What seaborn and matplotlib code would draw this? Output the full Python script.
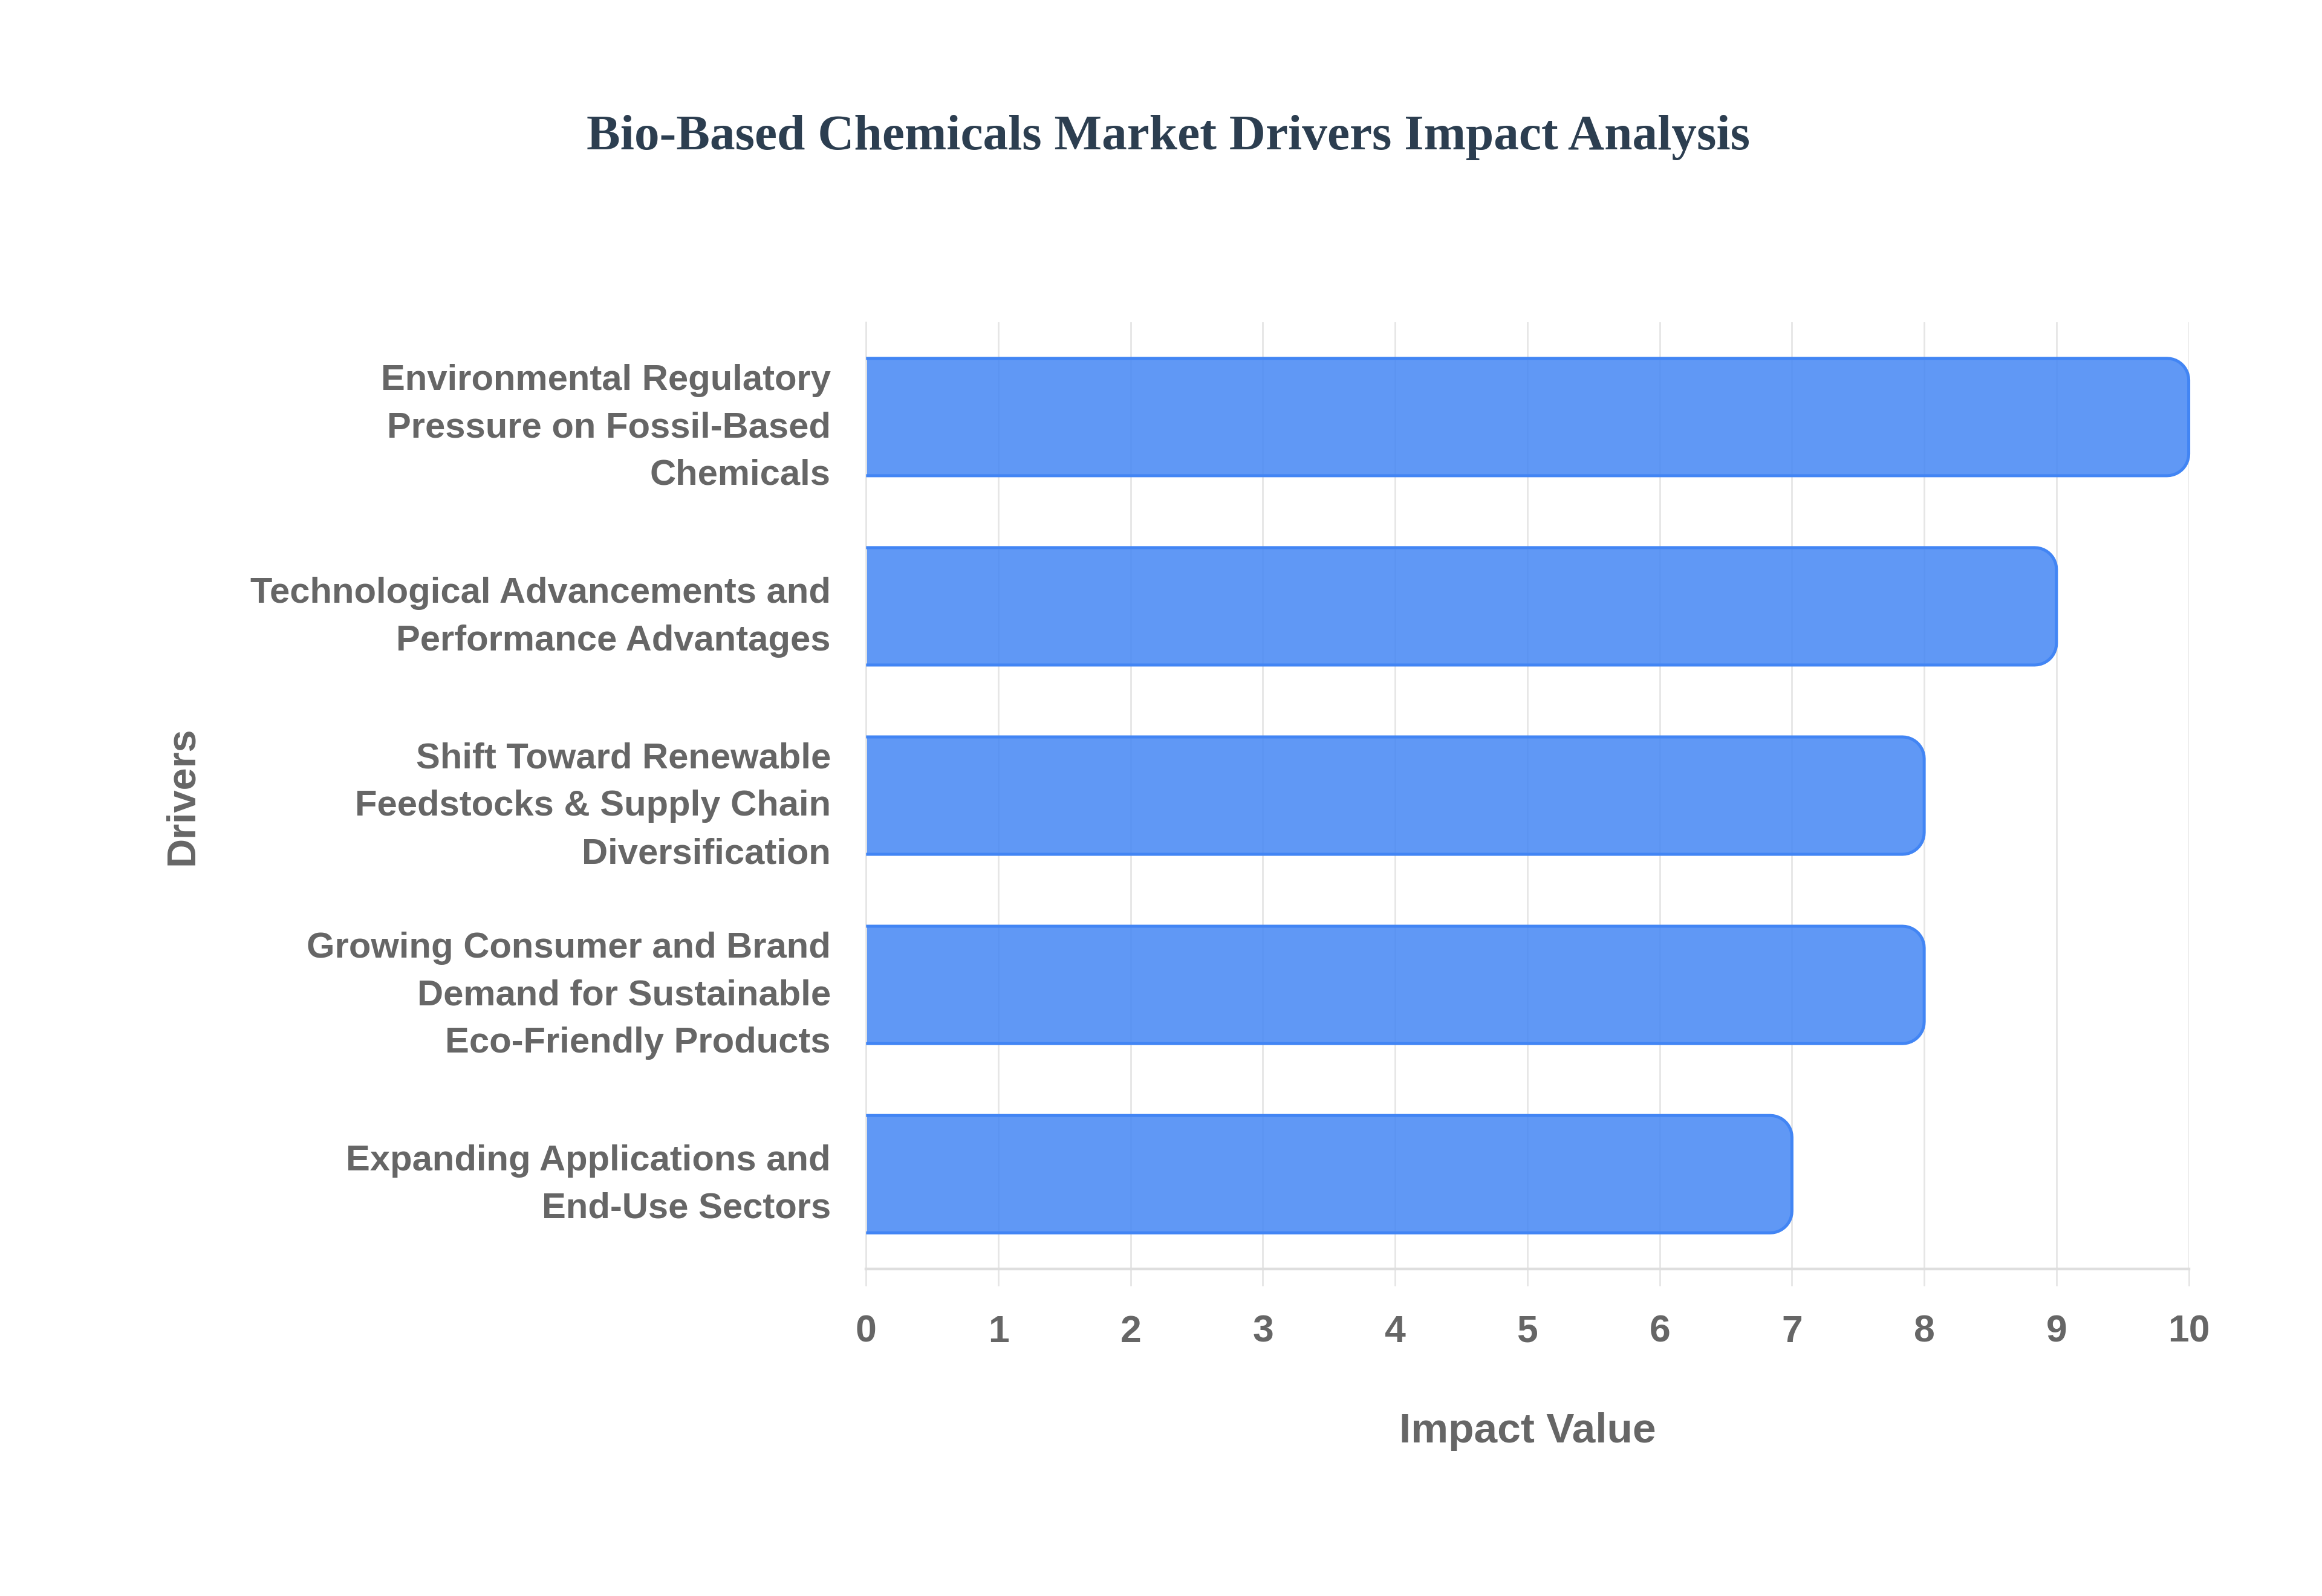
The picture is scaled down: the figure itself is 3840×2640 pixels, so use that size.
import numpy as np
import pandas as pd
import matplotlib
matplotlib.use("Agg")
import matplotlib.pyplot as plt
from matplotlib.path import Path
from matplotlib.patches import PathPatch
import seaborn as sns

# =========================
# DATA
# =========================

drivers = [
    "Environmental Regulatory\nPressure on Fossil-Based\nChemicals",
    "Technological Advancements and\nPerformance Advantages",
    "Shift Toward Renewable\nFeedstocks & Supply Chain\nDiversification",
    "Growing Consumer and Brand\nDemand for Sustainable\nEco-Friendly Products",
    "Expanding Applications and\nEnd-Use Sectors",
]
impact_values = [10, 9, 8, 8, 7]
x_ticks = list(range(0, 11))

TITLE = "Bio-Based Chemicals Market Drivers Impact Analysis"
X_LABEL = "Impact Value"
Y_LABEL = "Drivers"

# =========================
# STYLE
# =========================

BAR_FILL = "#4285f4"
BAR_EDGE = "#4285f4"
TEXT_GRAY = "#666666"
GRID_GRAY = "#e6e6e6"
TITLE_COLOR = "#2c3e50"

sns.set_theme(style="white")
plt.rcParams["font.family"] = ["Liberation Sans", "DejaVu Sans"]

df = pd.DataFrame({"driver": drivers, "impact": impact_values})

fig = plt.figure(figsize=(19.2, 13.2), dpi=200)
ax = fig.add_axes([0.373, 0.205, 0.5696, 0.593])

sns.barplot(data=df, x="impact", y="driver", orient="h", width=0.62,
            color=BAR_FILL, ax=ax)

ax.set_xlim(0, 10)
ax.set_ylim(4.5, -0.5)
fig.canvas.draw()

# swap the plain bars for bars rounded on the right end
px_per_x = ax.transData.transform((1, 0))[0] - ax.transData.transform((0, 0))[0]
px_per_y = abs(ax.transData.transform((0, 1))[1] - ax.transData.transform((0, 0))[1])
r_px = 36
rx = r_px / px_per_x
ry = r_px / px_per_y

for bar in list(ax.patches):
    x0, y0 = bar.get_x(), bar.get_y()
    w, h = bar.get_width(), bar.get_height()
    bar.set_visible(False)
    x1, y1 = x0 + w, y0 + h
    t1 = np.linspace(-np.pi / 2, 0, 12)
    t2 = np.linspace(0, np.pi / 2, 12)
    verts = [(x0, y0), (x1 - rx, y0)]
    verts += [(x1 - rx + rx * np.cos(t), y0 + ry + ry * np.sin(t)) for t in t1]
    verts += [(x1 - rx + rx * np.cos(t), y1 - ry + ry * np.sin(t)) for t in t2]
    verts += [(x0, y1)]
    path = Path(verts)
    ax.add_patch(PathPatch(path, facecolor=BAR_FILL, alpha=0.84, edgecolor="none",
                           clip_on=False, zorder=2))
    ax.add_patch(PathPatch(path, facecolor="none", edgecolor=BAR_EDGE, lw=1.8,
                           clip_on=False, zorder=3))

# =========================
# AXES
# =========================

ax.set_xticks(x_ticks)
ax.set_xticklabels([str(t) for t in x_ticks])
ax.set_axisbelow(True)
ax.grid(axis="x", color=GRID_GRAY, lw=1.0)
ax.grid(axis="y", visible=False)

for side in ["top", "right"]:
    ax.spines[side].set_visible(False)
ax.spines["left"].set_color(GRID_GRAY)
ax.spines["left"].set_linewidth(1.0)
ax.spines["bottom"].set_color("#dedede")
ax.spines["bottom"].set_linewidth(1.6)

ax.tick_params(axis="x", bottom=True, length=10, width=1.0, color=GRID_GRAY,
               pad=17, labelsize=22.5, labelcolor=TEXT_GRAY)
ax.tick_params(axis="y", left=False, length=0, pad=21, labelsize=21.5,
               labelcolor=TEXT_GRAY)
for lbl in ax.get_xticklabels() + ax.get_yticklabels():
    lbl.set_fontweight("bold")
for lbl in ax.get_yticklabels():
    lbl.set_multialignment("right")
    lbl.set_linespacing(1.55)

ax.set_xlabel(X_LABEL, fontsize=25, fontweight="bold", color=TEXT_GRAY, labelpad=37)
ax.set_ylabel(Y_LABEL, fontsize=24, fontweight="bold", color=TEXT_GRAY)
ax.yaxis.set_label_coords(-0.5025, 0.5)

fig.text(0.503, 0.914, TITLE, ha="center", va="center", fontsize=30,
         fontweight="bold", color=TITLE_COLOR, family=["Liberation Serif", "DejaVu Serif"])

plt.savefig("out.png", dpi=200, facecolor="white")
